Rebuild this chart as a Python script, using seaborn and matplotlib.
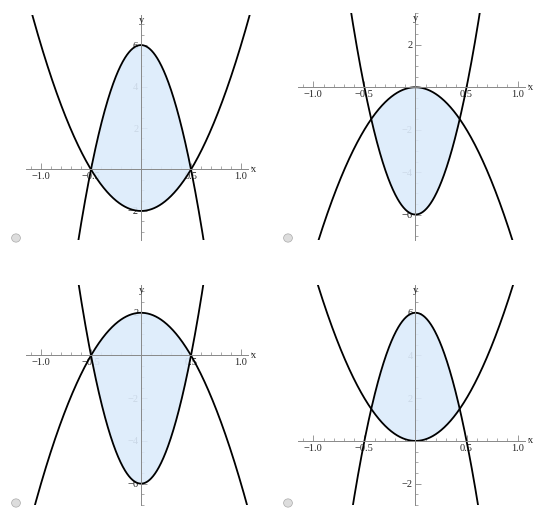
import numpy as np
import pandas as pd
import matplotlib
matplotlib.use("Agg")
import matplotlib.pyplot as plt
from matplotlib.ticker import MultipleLocator, FixedLocator
import seaborn as sns

sns.set_style("white")
plt.rcParams['font.family'] = ['Liberation Serif', 'DejaVu Serif']

# quadratic coefficients (a, c) for y = a*x^2 + c : upper curve, lower curve
panel_upper = [(-24, 6), (-8, 0), (-8, 2), (-24, 6)]
panel_lower = [(8, -2), (24, -6), (24, -6), (8, 0)]
panel_ylim = [(-3.4, 7.45), (-7.2, 3.5), (-7.0, 3.3), (-3.0, 7.3)]
panel_yticks = [[-2, 2, 4, 6], [-6, -4, -2, 2], [-6, -4, -2, 2], [-2, 2, 4, 6]]
xticks = [-1.0, -0.5, 0.5, 1.0]
xtick_labels = ["\u22121.0", "\u22120.5", "0.5", "1.0"]

W, H = 550, 518
# pixel boxes (left, top, right, bottom)
boxes = [(26, 15, 258, 240), (298, 13, 535, 240), (26, 285, 258, 505), (298, 285, 535, 505)]

fig = plt.figure(figsize=(5.5, 5.18), dpi=100)
x = np.linspace(-1.15, 1.15, 600)
for i in range(4):
    l, t, r, b = boxes[i]
    ax = fig.add_axes([l / W, 1 - b / H, (r - l) / W, (b - t) / H])
    au, cu = panel_upper[i]
    al, cl = panel_lower[i]
    yu = au * x**2 + cu
    yl = al * x**2 + cl
    df = pd.DataFrame({"x": np.concatenate([x, x]), "y": np.concatenate([yu, yl]),
                       "c": ["u"] * len(x) + ["l"] * len(x)})
    sns.lineplot(data=df, x="x", y="y", hue="c", palette={"u": "black", "l": "black"},
                 legend=False, ax=ax, lw=1.3, sort=False, estimator=None)
    m = yu >= yl
    ax.fill_between(x, yl, yu, where=m, color="#dcebfb", alpha=0.9, lw=0)
    ax.set_xlim(-1.15, 1.17)
    ax.set_ylim(*panel_ylim[i])
    for s in ["top", "right"]:
        ax.spines[s].set_visible(False)
    ax.spines["left"].set_position(("data", 0))
    ax.spines["bottom"].set_position(("data", 0))
    ax.spines["bottom"].set_bounds(-1.15, 1.07)
    for s in ["left", "bottom"]:
        ax.spines[s].set_color("#888888")
        ax.spines[s].set_linewidth(0.7)
    ax.xaxis.set_major_locator(FixedLocator(xticks))
    ax.set_xticklabels(xtick_labels)
    ax.xaxis.set_minor_locator(MultipleLocator(0.1))
    ax.yaxis.set_major_locator(FixedLocator(panel_yticks[i]))
    ax.set_yticklabels([str(v).replace("-", "\u2212") for v in panel_yticks[i]])
    ax.yaxis.set_minor_locator(MultipleLocator(0.5))
    ax.tick_params(which="major", direction="in", length=4, width=0.6, color="#888888",
                   labelsize=7.5, pad=2)
    ax.tick_params(which="minor", direction="in", length=2, width=0.5, color="#888888")
    ax.tick_params(axis="both", which="both", bottom=True, left=True)
    ax.set_xlabel("")
    ax.set_ylabel("")
    ax.text(1.1, 0.0, "x", fontsize=7.5, va="center", ha="left", transform=ax.transData)
    ax.text(0, 0.995, "y", fontsize=7.5, va="top", ha="center",
            transform=ax.get_xaxis_transform())
    ax.patch.set_alpha(0)
    fig.patches.append(plt.Circle(((l - 10) / W, 1 - (b - 2) / H), 0.008, color="#dddddd",
                                  ec="#aaaaaa", lw=0.5, transform=fig.transFigure))

fig.savefig("out.png", dpi=100)
